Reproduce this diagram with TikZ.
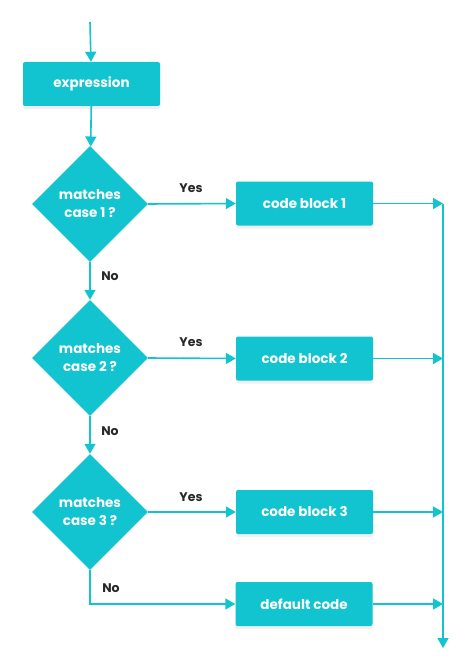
\documentclass[tikz,border=0pt]{standalone}
\usepackage{fontspec}
\setmainfont{Poppins}
\usetikzlibrary{arrows.meta,positioning,shapes.geometric,shadows}

\definecolor{caseteal}{RGB}{18,196,208}
\definecolor{labelgray}{RGB}{40,40,40}

\tikzset{
  block/.style={rectangle, rounded corners=2pt, fill=caseteal, text=white,
    font=\bfseries\fontsize{13.5}{16}\selectfont,
    minimum width=137pt, minimum height=44pt,
    drop shadow={shadow xshift=0pt, shadow yshift=-3pt, opacity=0.12}},
  test/.style={diamond, fill=caseteal, text=white, align=center,
    font=\bfseries\fontsize{13.5}{18}\selectfont,
    minimum width=116pt, minimum height=116pt, inner sep=0pt},
  flow/.style={draw=caseteal, line width=1.6pt, -{Triangle[length=10pt,width=11pt]}},
  answer/.style={text=labelgray, font=\bfseries\fontsize{12.5}{14}\selectfont},
}

\begin{document}
\begin{tikzpicture}[x=1pt, y=-1pt]
		\useasboundingbox (0,0) rectangle (474,671);

		\path (91.5, 84)   node[block] (expr)  {expression}
		      (90, 204)    node[test]  (case1) {matches\\case 1 ?}
		      (90, 358)    node[test]  (case2) {matches\\case 2 ?}
		      (90, 512)    node[test]  (case3) {matches\\case 3 ?}
		      (304.5, 203.5) node[block] (code1) {code block 1}
		      (304.5, 358.5) node[block] (code2) {code block 2}
		      (304.5, 512)   node[block] (code3) {code block 3}
		      (304, 604)     node[block] (dflt)  {default code};

		\coordinate (start)   at (90, 22);
		\coordinate (collect) at (443, 203.5);
		\coordinate (sink)    at (443, 648);

		\draw[flow] (start) -- (expr);
		\draw[flow] (expr) -- (case1);
		\draw[flow] (case1) -- (case2);
		\draw[flow] (case2) -- (case3);
		\draw[flow] (case3.south) |- (dflt.west);

		\draw[flow] (case1.east) -- (code1.west);
		\draw[flow] (case2.east) -- (code2.west);
		\draw[flow] (case3.east) -- (code3.west);

		\draw[flow] (code1.east) -- (code1.east -| collect);
		\draw[flow] (code2.east) -- (code2.east -| collect);
		\draw[flow] (code3.east) -- (code3.east -| collect);
		\draw[flow] (dflt.east) -- (dflt.east -| collect);
		\draw[flow] (collect) -- (sink);

		\path (191, 188)  node[answer] (yes1) {Yes}
		      (191, 342)  node[answer] (yes2) {Yes}
		      (191, 497)  node[answer] (yes3) {Yes}
		      (110, 276)  node[answer] (no1)  {No}
		      (110, 431)  node[answer] (no2)  {No}
		      (111, 588)  node[answer] (no3)  {No};
	\end{tikzpicture}
\end{document}
